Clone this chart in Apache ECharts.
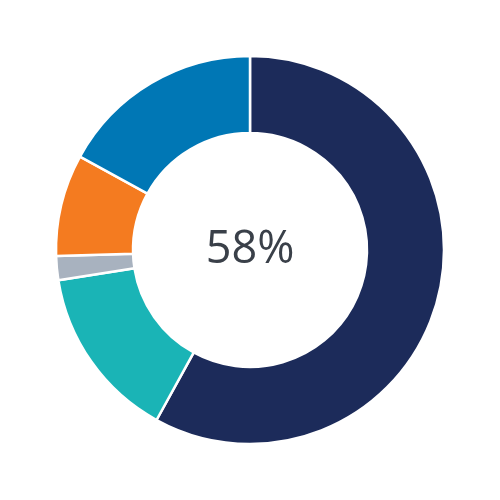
<!DOCTYPE html>
<html><head><meta charset="utf-8">
<script src="https://cdn.jsdelivr.net/npm/echarts@6/dist/echarts.min.js"></script>
<style>html,body{margin:0;padding:0;background:#fff}#c{width:500px;height:500px}</style>
</head><body><div id="c"></div>
<script>
const categories = ['A','B','C','D','E'];
const values = [58, 14.5, 2, 8.5, 17];
const colors = ['#1c2b5a','#1ab4b6','#a8b2bf','#f47b20','#0077b5'];
const centerLabel = '58%';
const chart = echarts.init(document.getElementById('c'));
chart.setOption({
  animation:false,
  graphic:[{type:'text',left:'center',top:'middle',style:{text:centerLabel,fontFamily:'Open Sans',fontWeight:'normal',fontSize:45,fill:'#3a4049'}}],
  series:[{
    type:'pie',
    radius:[117,194],
    center:[250,250],
    startAngle:90,
    clockwise:true,
    label:{show:false},
    labelLine:{show:false},
    itemStyle:{borderColor:'#fff',borderWidth:2.5},
    data:categories.map((c,i)=>({name:c,value:values[i],itemStyle:{color:colors[i]}}))
  }]
});
</script></body></html>
